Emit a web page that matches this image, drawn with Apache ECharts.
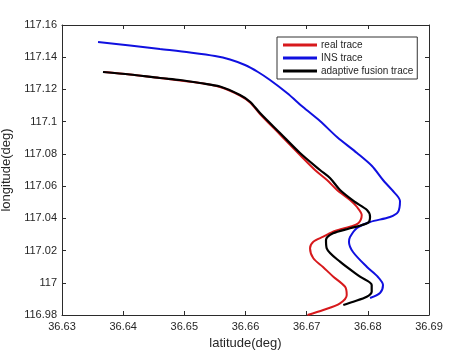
<!DOCTYPE html>
<html>
<head>
<meta charset="utf-8">
<script src="https://cdn.jsdelivr.net/npm/echarts@6/dist/echarts.min.js"></script>
<style>
html,body{margin:0;padding:0;background:#fff;}
#chart{width:474px;height:355px;}
</style>
</head>
<body>
<div id="chart"></div>
<script>
var xTicks = [36.63, 36.64, 36.65, 36.66, 36.67, 36.68, 36.69];
var yTicks = [116.98, 117, 117.02, 117.04, 117.06, 117.08, 117.1, 117.12, 117.14, 117.16];
var seriesNames = ['real trace', 'INS trace', 'adaptive fusion trace'];

var realLat = [36.63687,36.64112,36.64602,36.65256,36.65583,36.6591,36.66074,36.66237,36.66564,36.66891,36.67136,36.67332,36.67496,36.67709,36.67823,36.679,36.67844,36.67709,36.67463,36.67272,36.67109,36.67055,36.67109,36.67267,36.67436,36.67627,36.67655,36.67545,36.67272,36.67013];
var realLon = [117.13083,117.12928,117.1271,117.124,117.12152,117.11624,117.1119,117.10476,117.09203,117.07931,117.07,117.06379,117.05759,117.05138,117.04703,117.04207,117.03692,117.03481,117.03214,117.0286,117.0255,117.0214,117.01519,117.00979,117.00377,116.99757,116.99241,116.98726,116.9831,116.98];

var insLat = [36.63589,36.64112,36.64602,36.65093,36.65501,36.65747,36.65992,36.66204,36.66401,36.66679,36.6694,36.67218,36.67496,36.67823,36.68068,36.68248,36.68395,36.68526,36.68493,36.68362,36.68036,36.67823,36.67709,36.67692,36.67758,36.67986,36.68166,36.68248,36.68199,36.68036];
var insLon = [117.14945,117.14727,117.1451,117.14293,117.14076,117.13859,117.13517,117.13083,117.12586,117.11779,117.1091,117.10041,117.09048,117.08055,117.07248,117.06379,117.05759,117.05076,117.04393,117.04083,117.03772,117.034,117.02841,117.02531,117.0191,117.00979,117.00359,116.99862,116.99366,116.99055];

var fusionLat = [36.6367,36.64112,36.64602,36.64929,36.65256,36.65583,36.6591,36.66074,36.66237,36.66564,36.66891,36.67218,36.67381,36.67545,36.6779,36.67986,36.68036,36.68003,36.67709,36.67431,36.67316,36.67328,36.67545,36.67872,36.68063,36.68063,36.67982,36.67763,36.67599];
var fusionLon = [117.13083,117.12928,117.1271,117.12586,117.124,117.12183,117.11655,117.11239,117.10538,117.09297,117.08055,117.07,117.06503,117.05759,117.05014,117.04517,117.04101,117.03729,117.03381,117.03071,117.02655,117.0214,117.01308,117.00377,116.99862,116.99446,116.99136,116.98826,116.98621];

function pairs(a, b) { return a.map(function (v, i) { return [v, b[i]]; }); }
function fmt(v) { return String(+(+v).toFixed(2)); }

var axisColor = '#2b2b2b';
var font = 'Liberation Sans, Arial, sans-serif';

function mkX(pos, labels) {
  return {
    type: 'value', position: pos,
    min: xTicks[0], max: xTicks[xTicks.length - 1], interval: 0.01,
    axisLine: { show: true, lineStyle: { color: axisColor, width: 1 } },
    axisTick: { show: true, inside: true, length: 4, lineStyle: { color: axisColor } },
    axisLabel: { show: labels, formatter: fmt, color: '#262626', fontSize: 11, fontFamily: font, margin: 6 },
    splitLine: { show: false },
    name: labels ? 'latitude(deg)' : '', nameLocation: 'middle', nameGap: 20,
    nameTextStyle: { color: '#262626', fontSize: 13, fontFamily: font }
  };
}
function mkY(pos, labels) {
  return {
    type: 'value', position: pos,
    min: yTicks[0], max: yTicks[yTicks.length - 1], interval: 0.02,
    axisLine: { show: true, lineStyle: { color: axisColor, width: 1 } },
    axisTick: { show: true, inside: true, length: 4, lineStyle: { color: axisColor } },
    axisLabel: { show: labels, formatter: fmt, color: '#262626', fontSize: 11, fontFamily: font, margin: 5 },
    splitLine: { show: false },
    name: labels ? 'longitude(deg)' : '', nameLocation: 'middle', nameGap: 41,
    nameTextStyle: { color: '#262626', fontSize: 13, fontFamily: font }
  };
}

var chart = echarts.init(document.getElementById('chart'), null, { renderer: 'canvas' });
chart.setOption({
  animation: false,
  backgroundColor: '#fff',
  grid: { left: 62, right: 45, top: 25, bottom: 40, containLabel: false, outerBoundsMode: 'none' },
  xAxis: [mkX('bottom', true), mkX('top', false)],
  yAxis: [mkY('left', true), mkY('right', false)],
  legend: {
    left: 277, top: 37, orient: 'vertical',
    data: seriesNames,
    icon: 'rect', itemWidth: 34, itemHeight: 3, itemGap: 1,
    padding: [2, 4, 2, 6],
    backgroundColor: '#fff', borderColor: '#333', borderWidth: 1,
    textStyle: { color: '#262626', fontSize: 10, fontFamily: font, lineHeight: 12, padding: [0, 0, 0, -1] }
  },
  series: [
    { name: seriesNames[0], type: 'line', data: pairs(realLat, realLon), symbol: 'none', smooth: 0.3,
      lineStyle: { color: '#d7191c', width: 2 }, itemStyle: { color: '#d7191c' }, z: 2 },
    { name: seriesNames[1], type: 'line', data: pairs(insLat, insLon), symbol: 'none', smooth: 0.3,
      lineStyle: { color: '#1010e0', width: 2 }, itemStyle: { color: '#1010e0' }, z: 3 },
    { name: seriesNames[2], type: 'line', data: pairs(fusionLat, fusionLon), symbol: 'none', smooth: 0.3,
      lineStyle: { color: '#000', width: 2.2 }, itemStyle: { color: '#000' }, z: 4 }
  ]
});
</script>
</body>
</html>
